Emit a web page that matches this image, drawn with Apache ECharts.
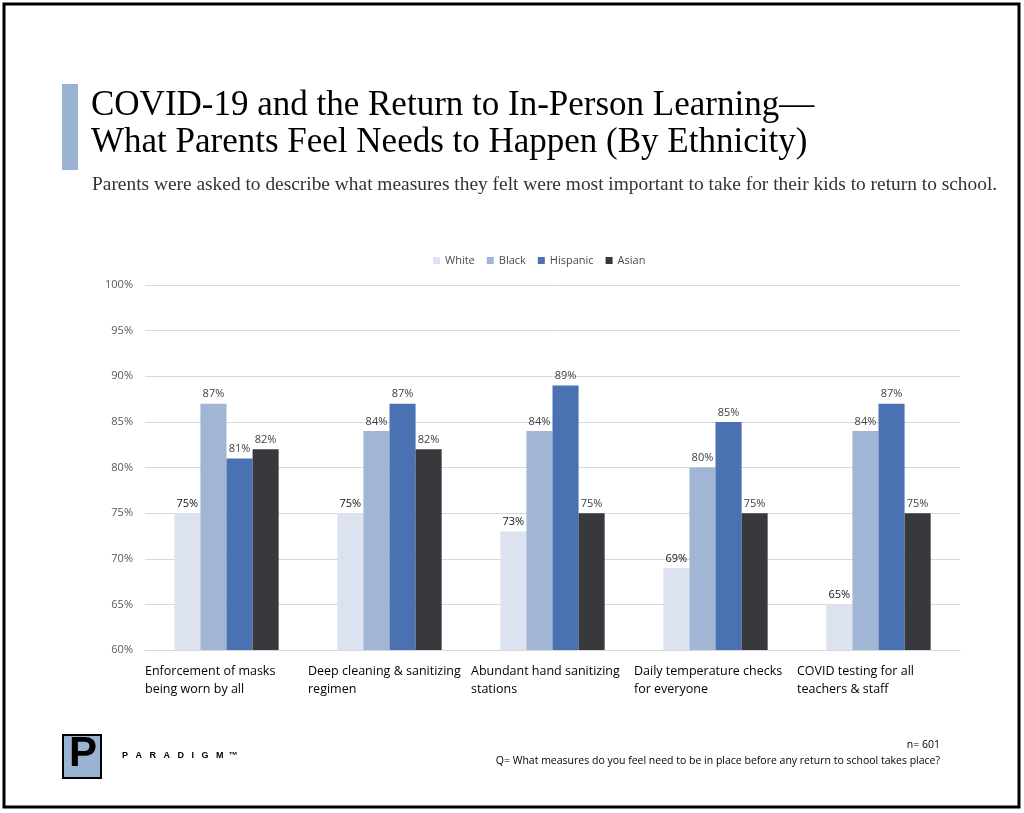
<!DOCTYPE html>
<html>
<head>
<meta charset="utf-8">
<script src="https://cdn.jsdelivr.net/npm/echarts@6/dist/echarts.min.js"></script>
<style>
  html, body { margin: 0; padding: 0; background: #fff; }
  #chart { width: 1024px; height: 813px; }
</style>
</head>
<body>
<div id="chart"></div>
<script>
// categories and values
const categories = [
  'Enforcement of masks\nbeing worn by all',
  'Deep cleaning & sanitizing\nregimen',
  'Abundant hand sanitizing\nstations',
  'Daily temperature checks\nfor everyone',
  'COVID testing for all\nteachers & staff'
];
const seriesNames = ['White', 'Black', 'Hispanic', 'Asian'];
const white = [75, 75, 73, 69, 65];
const black = [87, 84, 84, 80, 84];
const hispanic = [81, 87, 89, 85, 87];
const asian = [82, 82, 75, 75, 75];
const colors = ['#dce2f0', '#a1b6d5', '#4a71b2', '#38393d'];

const chart = echarts.init(document.getElementById('chart'));

function barSeries(name, data, color, labelColor) {
  return {
    name: name,
    type: 'bar',
    data: data,
    barGap: '0%',
    barCategoryGap: '36%',
    itemStyle: { color: color },
    label: {
      show: true,
      position: 'top',
      distance: 4,
      formatter: '{c}%',
      fontFamily: 'Open Sans',
      fontSize: 11,
      color: labelColor
    }
  };
}

chart.setOption({
  animation: false,
  title: [{
    text: 'COVID-19 and the Return to In-Person Learning\u2014\nWhat Parents Feel Needs to Happen (By Ethnicity)',
    left: 86,
    top: 82,
    textStyle: {
      fontFamily: 'Liberation Serif',
      fontWeight: 'normal',
      fontSize: 35,
      lineHeight: 37,
      color: '#000'
    }
  }, {
    text: 'Parents were asked to describe what measures they felt were most important to take for their kids to return to school.',
    left: 87,
    top: 170,
    textStyle: {
      fontFamily: 'Liberation Serif',
      fontWeight: 'normal',
      fontSize: 19.4,
      color: '#333'
    }
  }],
  legend: {
    top: 250,
    left: 428,
    itemWidth: 7,
    itemHeight: 7,
    itemGap: 12,
    icon: 'rect',
    textStyle: { fontFamily: 'Open Sans', fontSize: 11, color: '#4a4a4a' },
    data: seriesNames
  },
  grid: { left: 145, right: 64, top: 285, bottom: 163 },
  xAxis: {
    type: 'category',
    data: categories,
    axisTick: { show: false },
    axisLine: { lineStyle: { color: '#d9d9d9' } },
    axisLabel: {
      margin: 12,
      interval: 0,
      formatter: function (v) {
        return v.split('\n').map(s => '{a|' + s + '}').join('\n');
      },
      rich: {
        a: {
          width: 163,
          align: 'left',
          fontFamily: 'Open Sans',
          fontSize: 12.5,
          lineHeight: 18,
          color: '#000'
        }
      }
    }
  },
  yAxis: {
    type: 'value',
    min: 60,
    max: 100,
    interval: 5,
    axisLine: { show: false },
    axisTick: { show: false },
    splitLine: { lineStyle: { color: '#d9d9d9' } },
    axisLabel: {
      formatter: '{value}%',
      margin: 12,
      fontFamily: 'Open Sans',
      fontSize: 11,
      color: '#595959'
    }
  },
  series: [
    barSeries('White', white, colors[0], '#111'),
    barSeries('Black', black, colors[1], '#404040'),
    barSeries('Hispanic', hispanic, colors[2], '#404040'),
    barSeries('Asian', asian, colors[3], '#404040')
  ],
  graphic: [
    // outer frame
    { type: 'rect', shape: { x: 4, y: 4, width: 1015, height: 803 },
      style: { fill: 'none', stroke: '#000', lineWidth: 3 } },
    // accent bar next to title
    { type: 'rect', shape: { x: 62, y: 84, width: 16, height: 86 },
      style: { fill: '#9bb3d2' } },
    // logo
    { type: 'rect', shape: { x: 63, y: 735, width: 38, height: 43 },
      style: { fill: '#9bb3d2', stroke: '#000', lineWidth: 2 } },
    { type: 'text', left: 69, top: 733,
      style: { text: 'P', font: 'bold 42px "Liberation Sans"', fill: '#000' } },
    { type: 'text', left: 122, top: 751,
      style: { text: 'P   A   R   A   D   I   G   M  \u2122', font: 'bold 9px "Liberation Sans"', fill: '#000' } },
    { type: 'text', right: 84, top: 740,
      style: { text: 'n= 601', font: '10.5px "Open Sans"', fill: '#000', textAlign: 'right' } },
    { type: 'text', right: 84, top: 756,
      style: { text: 'Q= What measures do you feel need to be in place before any return to school takes place?',
        font: '10.5px "Open Sans"', fill: '#000', textAlign: 'right' } }
  ]
});
</script>
</body>
</html>
